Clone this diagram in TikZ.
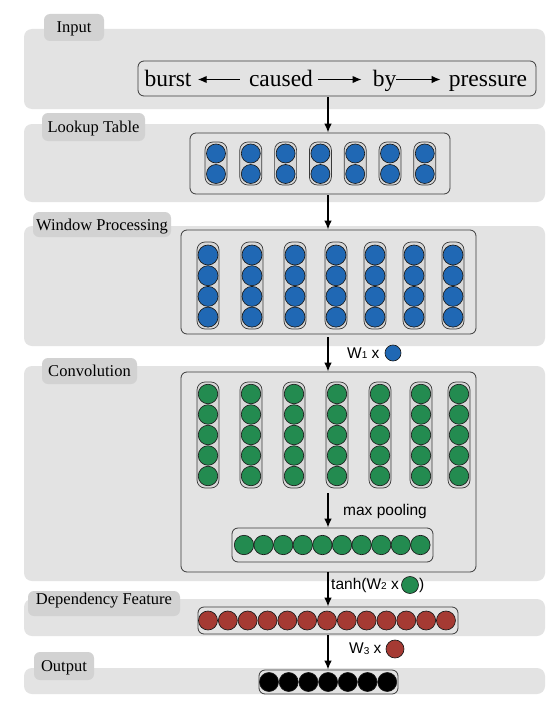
\documentclass[tikz,border=0pt]{standalone}
\usepackage{fontspec}
\setmainfont{Liberation Serif}
\newfontfamily\arialfont{Liberation Sans}
\usetikzlibrary{arrows.meta,fit,calc}
\definecolor{bandgray}{HTML}{E3E3E3}
\definecolor{tabgray}{HTML}{D2D2D2}
\definecolor{capgray}{HTML}{D8D8D8}
\definecolor{cblue}{HTML}{2068B4}
\definecolor{cgreen}{HTML}{238B50}
\definecolor{cred}{HTML}{A53A33}
\definecolor{boxline}{HTML}{3A3A3A}
\newcommand\lowsub[1]{{\fontsize{10}{10}\selectfont\raisebox{-0.6pt}{#1}}}
\begin{document}
\begin{tikzpicture}[x=1pt,y=-1pt,
  band/.style={fill=bandgray, draw=none, rounded corners=8pt, inner sep=0pt},
  tab/.style={fill=tabgray, draw=none, rounded corners=6pt, inner sep=0pt,
    text depth=0pt, font=\fontsize{16.5}{18}\selectfont},
  box/.style={draw=boxline, line width=0.8pt, rounded corners=6pt, inner sep=0pt},
  caps/.style={draw=boxline, fill=capgray, line width=0.7pt, rounded corners=8pt,
    inner sep=0pt, minimum width=22pt},
  dot/.style={circle, draw=black!90, line width=0.65pt, inner sep=0pt, minimum size=#1},
  word/.style={inner sep=0pt, anchor=base, font=\fontsize{23.5}{26}\selectfont},
  lab/.style={inner sep=0pt, anchor=west, font=\arialfont\fontsize{15.5}{17}\selectfont},
  arr/.style={line width=1.4pt, -{Latex[length=9pt,width=7.5pt]}},
  warr/.style={line width=1.4pt, -{Latex[length=9pt,width=7.5pt]}}
]
\useasboundingbox (0,0) rectangle (554,717);
\fill[white] (0,0) rectangle (554,717);

% bands
\node[band, fit={(24,29) (545,109)}] (binput) {};
\node[band, fit={(24,124) (545,202)}] (blookup) {};
\node[band, fit={(24,226) (545,346)}] (bwindow) {};
\node[band, fit={(24,366) (545,581)}] (bconv) {};
\node[band, fit={(24,599) (545,636)}] (bdep) {};
\node[band, fit={(24,668) (545,694)}] (bout) {};

% tabs
\node[tab, minimum width=60pt, minimum height=27pt] (tinput) at (74,27.5) {Input};
\node[tab, minimum width=103pt, minimum height=28pt] (tlookup) at (93.5,127) {Lookup Table};
\node[tab, minimum width=138pt, minimum height=25pt] (twindow) at (102,224.5) {Window Processing};
\node[tab, minimum width=95pt, minimum height=26pt] (tconv) at (89.5,371) {Convolution};
\node[tab, minimum width=152pt, minimum height=25pt, text depth=10pt] (tdep) at (104,603.5) {Dependency Feature};
\node[tab, minimum width=60pt, minimum height=28pt] (tout) at (64,666) {Output};

% boxes
\node[box, fit={(138,61) (536,96)}] (sent) {};
\node[box, fit={(190,133) (450,194)}] (lbox) {};
\node[box, fit={(181,230) (476,334)}] (wbox) {};
\node[box, fit={(181,372) (476,572)}] (cbox) {};
\node[box, fit={(232,528) (433,562)}] (pbox) {};
\node[box, fit={(198,607) (458,634)}] (rbox) {};
\node[box, fit={(259,670) (398,694)}] (obox) {};

% sentence
\node[word] (wburst) at (168,86) {burst};
\node[word] (wcaused) at (281,86) {caused};
\node[word] (wby) at (384.5,86) {by};
\node[word] (wpressure) at (488,86) {pressure};
\draw[warr] ([xshift=-9pt,yshift=6.5pt]wcaused.base west) -- ([xshift=6pt,yshift=6.5pt]wburst.base east);
\draw[warr] ([xshift=5pt,yshift=6.5pt]wcaused.base east) -- ([xshift=-11pt,yshift=6.5pt]wby.base west);
\draw[warr] ([xshift=0pt,yshift=6.5pt]wby.base east) -- ([xshift=-8pt,yshift=6.5pt]wpressure.base west);

% lookup table
\foreach \k in {0,...,6} {
  \pgfmathsetmacro\cx{216+34.8*\k}
  \node[caps, minimum height=43pt] (lc\k) at (\cx,163.5) {};
  \foreach \j in {0,1} {
    \node[dot=19pt, fill=cblue] (l\k-\j) at (\cx,153.5+20.5*\j) {};
  }
}

% window processing
\foreach \cx [count=\k] in {208,252,295,336,375,414,453} {
  \node[caps, minimum height=87pt] (wc\k) at (\cx,285.5) {};
  \foreach \j in {0,...,3} {
    \node[dot=20pt, fill=cblue] (w\k-\j) at (\cx,255+20.7*\j) {};
  }
}

% convolution
\foreach \cx [count=\k] in {208,251,294,337,380,421,459} {
  \node[caps, minimum height=106pt] (cc\k) at (\cx,435) {};
  \foreach \j in {0,...,4} {
    \node[dot=19.5pt, fill=cgreen] (c\k-\j) at (\cx,394+20.5*\j) {};
  }
}

% pooled
\foreach \j in {0,...,9} {
  \node[dot=19.4pt, fill=cgreen] (p\j) at (244+19.6*\j,545) {};
}
% dependency feature
\foreach \j in {0,...,12} {
  \node[dot=19pt, fill=cred] (r\j) at (208+19.83*\j,620.5) {};
}
% output
\foreach \j in {0,...,6} {
  \node[dot=19pt, fill=black] (o\j) at (269+19.7*\j,682) {};
}

% main arrows
\coordinate (ax) at (328,0);
\coordinate (mpstart) at (328,493);
\draw[arr, shorten <=1pt] (sent.south -| ax) -- (lbox.north -| ax);
\draw[arr, shorten <=1pt] (lbox.south -| ax) -- (wbox.north -| ax);
\draw[arr, shorten <=3pt] (wbox.south -| ax) -- (cbox.north -| ax);
\draw[arr] (mpstart) -- (pbox.north -| ax);
\draw[arr] (cbox.south -| ax) -- (rbox.north -| ax);
\draw[arr, shorten <=1pt] (rbox.south -| ax) -- (obox.north -| ax);

% labels
\node[lab] (w1lab) at (347,353) {W\lowsub{1} x};
\node[dot=16pt, fill=cblue] (w1dot) at (393,353) {};
\node[lab] (mplab) at (343,511) {max pooling};
\node[lab] (tanhlab) at (331,585) {tanh(W\lowsub{2} x};
\node[dot=17pt, fill=cgreen] (tanhdot) at (410,585) {};
\node[lab] (tanhclose) at (419,585) {)};
\node[lab] (w3lab) at (349,649) {W\lowsub{3} x};
\node[dot=18pt, fill=cred] (w3dot) at (395,649) {};
\end{tikzpicture}
\end{document}
